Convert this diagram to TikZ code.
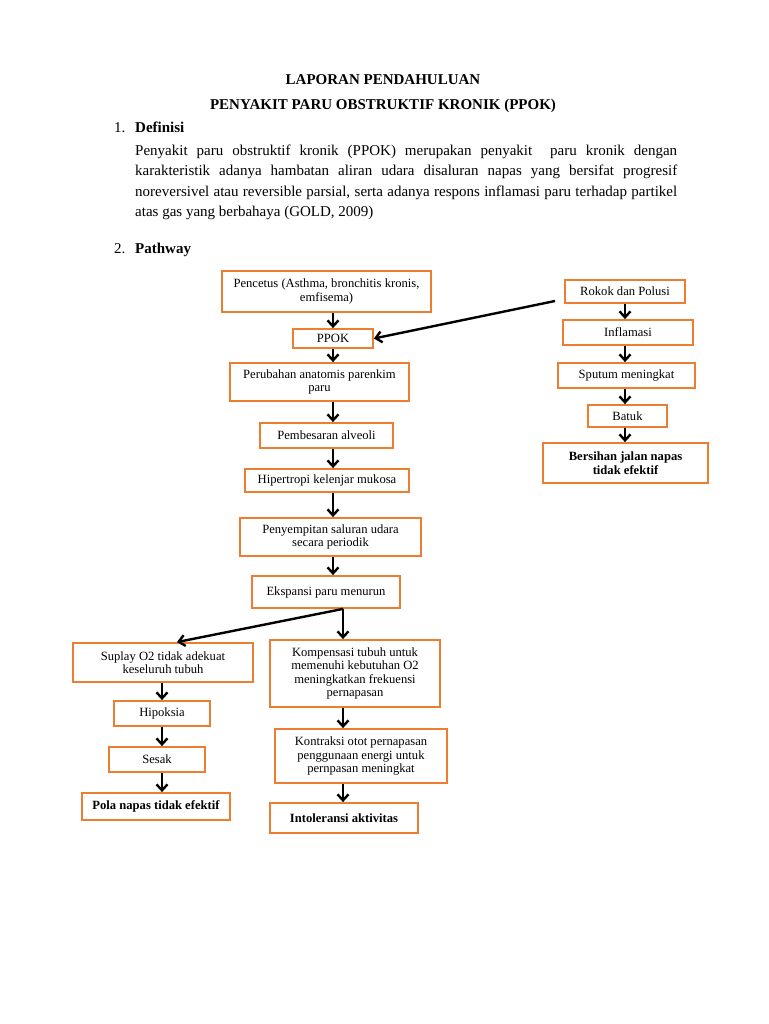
\documentclass[tikz,border=0pt]{standalone}
\usepackage{fontspec}
\setmainfont{Liberation Serif}
\usetikzlibrary{arrows.meta}
\definecolor{boxorange}{RGB}{236,125,49}
\begin{document}
\begin{tikzpicture}[x=1pt, y=-1pt,
    box/.style={draw=boxorange, line width=1.8pt, align=center, inner sep=1pt,
        font=\fontsize{12.6}{13.5}\selectfont},
    flow/.style={-{Straight Barb[length=6pt,width=11pt]}, line width=2.4pt},
    body/.style={anchor=base west, inner sep=0pt, font=\fontsize{15}{18}\selectfont}]

    \useasboundingbox[fill=white] (0,0) rectangle (768,1024);

    %% Heading
    \node[font=\fontsize{15}{18}\selectfont\bfseries, anchor=base, inner sep=0pt] (judul) at (383,85) {LAPORAN PENDAHULUAN};
    \node[font=\fontsize{15}{18}\selectfont\bfseries, anchor=base, inner sep=0pt] (subjudul) at (383,110) {PENYAKIT PARU OBSTRUKTIF KRONIK (PPOK)};

    % Definisi
    \node[body] (no1) at (114,133) {1.};
    \node[body, font=\fontsize{15}{18}\selectfont\bfseries] (definisi) at (135,133) {Definisi};
    \node[body] (baris1) at (135,155.5) {\makebox[542pt][s]{Penyakit paru obstruktif kronik (PPOK) merupakan penyakit \ paru kronik dengan}};
    \node[body] (baris2) at (135,176) {\makebox[542pt][s]{karakteristik adanya hambatan aliran udara disaluran napas yang bersifat progresif}};
    \node[body] (baris3) at (135,196.5) {\makebox[542pt][s]{noreversivel atau reversible parsial, serta adanya respons inflamasi paru terhadap partikel}};
    \node[body] (baris4) at (135,217) {atas gas yang berbahaya (GOLD, 2009)};

    % Pathway
    \node[body] (no2) at (114,253) {2.};
    \node[body, font=\fontsize{15}{18}\selectfont\bfseries] (pathway) at (135,253) {Pathway};

    %% Main column
    \node[box, minimum width=209pt, minimum height=41pt] (pencetus) at (326.5,291.5) {Pencetus (Asthma, bronchitis kronis,\\ emfisema)};
    \node[box, minimum width=80pt, minimum height=19pt] (ppok) at (333,338.5) {PPOK};
    \node[box, minimum width=179pt, minimum height=38pt] (perubahan) at (319.5,382) {Perubahan anatomis parenkim\\ paru};
    \node[box, minimum width=133pt, minimum height=25pt] (pembesaran) at (326.5,435.5) {Pembesaran alveoli};
    \node[box, minimum width=164pt, minimum height=23pt] (hipertropi) at (327,480.5) {Hipertropi kelenjar mukosa};
    \node[box, minimum width=181pt, minimum height=38pt] (penyempitan) at (330.5,537) {Penyempitan saluran udara\\ secara periodik};
    \node[box, minimum width=148pt, minimum height=32pt] (ekspansi) at (326,592) {Ekspansi paru menurun};

    % Left branch
    \node[box, minimum width=180pt, minimum height=39pt] (suplay) at (163,662.5) {Suplay O2 tidak adekuat\\ keseluruh tubuh};
    \node[box, minimum width=96pt, minimum height=25pt] (hipoksia) at (162,713.5) {Hipoksia};
    \node[box, minimum width=96pt, minimum height=25pt] (sesak) at (157,759.5) {Sesak};
    \node[box, minimum width=148pt, minimum height=27pt, font=\fontsize{12.6}{13.5}\selectfont\bfseries] (pola) at (156,806.5) {Pola napas tidak efektif};

    % Right branch
    \node[box, minimum width=170pt, minimum height=67pt] (kompensasi) at (355,673.5) {Kompensasi tubuh untuk\\ memenuhi kebutuhan O2\\ meningkatkan frekuensi\\ pernapasan};
    \node[box, minimum width=172pt, minimum height=54pt] (kontraksi) at (361,756) {Kontraksi otot pernapasan\\ penggunaan energi untuk\\ pernpasan meningkat};
    \node[box, minimum width=148pt, minimum height=30pt, font=\fontsize{12.6}{13.5}\selectfont\bfseries] (intoleransi) at (344,818) {Intoleransi aktivitas};

    %% Rokok column
    \node[box, minimum width=120pt, minimum height=23pt] (rokok) at (625,291.5) {Rokok dan Polusi};
    \node[box, minimum width=130pt, minimum height=25pt] (inflamasi) at (628,332.5) {Inflamasi};
    \node[box, minimum width=137pt, minimum height=25pt] (sputum) at (626.5,375.5) {Sputum meningkat};
    \node[box, minimum width=79pt, minimum height=22pt] (batuk) at (627.5,416) {Batuk};
    \node[box, minimum width=165pt, minimum height=40pt, font=\fontsize{12.6}{13.5}\selectfont\bfseries] (bersihan) at (625.5,463) {Bersihan jalan napas\\ tidak efektif};

    % Arrows, main column
    \draw[flow] (ppok.north |- pencetus.south) -- (ppok.north);
    \draw[flow] (ppok.south) -- (ppok.south |- perubahan.north);
    \draw[flow] (ppok.south |- perubahan.south) -- (ppok.south |- pembesaran.north);
    \draw[flow] (ppok.south |- pembesaran.south) -- (ppok.south |- hipertropi.north);
    \draw[flow] (ppok.south |- hipertropi.south) -- (ppok.south |- penyempitan.north);
    \draw[flow] (ppok.south |- penyempitan.south) -- (ppok.south |- ekspansi.north);

    % Split
    \coordinate (cabang) at ([xshift=17pt]ekspansi.south);
    \draw[flow] (cabang) -- ([xshift=14pt]suplay.north);
    \draw[flow] (cabang) -- (cabang |- kompensasi.north);
    \draw[flow] (cabang |- kompensasi.south) -- (cabang |- kontraksi.north);
    \draw[flow] (cabang |- kontraksi.south) -- (cabang |- intoleransi.north);

    % Left branch arrows
    \draw[flow] (hipoksia.north |- suplay.south) -- (hipoksia.north);
    \draw[flow] (hipoksia.south) -- (hipoksia.south |- sesak.north);
    \draw[flow] (hipoksia.south |- sesak.south) -- (hipoksia.south |- pola.north);

    % Rokok arrows
    \coordinate (asap) at (555,301);
    \draw[flow] (asap) -- (ppok.east);
    \draw[flow] (rokok.south) -- (rokok.south |- inflamasi.north);
    \draw[flow] (rokok.south |- inflamasi.south) -- (rokok.south |- sputum.north);
    \draw[flow] (rokok.south |- sputum.south) -- (rokok.south |- batuk.north);
    \draw[flow] (rokok.south |- batuk.south) -- (rokok.south |- bersihan.north);

\end{tikzpicture}
\end{document}
